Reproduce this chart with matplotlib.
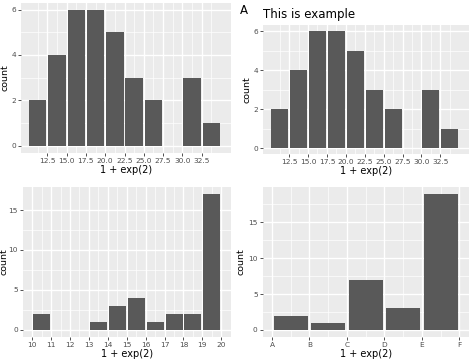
import numpy as np
import matplotlib
matplotlib.use("Agg")
import matplotlib.pyplot as plt

# data
edges_top = [10.0, 12.5, 15.0, 17.5, 20.0, 22.5, 25.0, 27.5, 30.0, 32.5, 35.0]
counts_top = [2, 4, 6, 6, 5, 3, 2, 0, 3, 1]

edges_bl = [10, 11, 12, 13, 14, 15, 16, 17, 18, 19, 20]
counts_bl = [2, 0, 0, 1, 3, 4, 1, 2, 2, 17]

letters = ["A", "B", "C", "D", "E", "F"]
counts_br = [2, 1, 7, 3, 19]

xlab = "1 + exp(2)"
bar_col = "#595959"
panel_col = "#EBEBEB"

W, H = 474, 361


def gg_axes(ax, xmaj, xmin, ymaj, ymin):
    ax.set_facecolor(panel_col)
    for s in ax.spines.values():
        s.set_visible(False)
    ax.set_xticks(xmaj)
    ax.set_xticks(xmin, minor=True)
    ax.set_yticks(ymaj)
    ax.set_yticks(ymin, minor=True)
    ax.grid(which="major", color="white", lw=1.0)
    ax.grid(which="minor", color="white", lw=0.5)
    ax.set_axisbelow(True)
    ax.tick_params(which="major", length=2, width=0.6, color="#333333",
                   labelsize=5.3, labelcolor="#4D4D4D", pad=1.5)
    ax.tick_params(which="minor", length=0)
    ax.set_ylabel("count", fontsize=6.8)
    ax.set_xlabel(xlab, fontsize=7, labelpad=1)


def hist_panel(ax, edges, counts, xmaj, xlim, ylim, ymaj, ymin, lab_x):
    e = np.array(edges, dtype=float)
    w = np.diff(e)
    ax.bar(e[:-1] + w / 2, counts, width=w * 0.9, color=bar_col, zorder=2)
    xmin = [(a + b) / 2 for a, b in zip(xmaj[:-1], xmaj[1:])]
    gg_axes(ax, xmaj, xmin, ymaj, ymin)
    ax.set_xlim(*xlim)
    ax.set_ylim(*ylim)
    b = ax.get_position()
    ax.yaxis.set_label_coords(lab_x / W, (b.y0 + b.y1) / 2,
                              transform=fig.transFigure)


fig = plt.figure(figsize=(W / 100, H / 100), dpi=100)

top_ticks = [12.5, 15.0, 17.5, 20.0, 22.5, 25.0, 27.5, 30.0, 32.5]

ax1 = fig.add_axes([0.0437, 0.577, 0.443, 0.4155])
hist_panel(ax1, edges_top, counts_top, top_ticks, (9.06, 36.25), (-0.3, 6.3),
           [0, 2, 4, 6], [1, 3, 5], 9)
ax1.set_xticks([11.25] + [t + 1.25 for t in top_ticks], minor=True)
ax1.set_xticklabels([f"{t:.1f}" for t in top_ticks])

ax2 = fig.add_axes([0.555, 0.573, 0.434, 0.357])
hist_panel(ax2, edges_top, counts_top, top_ticks, (9.06, 36.25), (-0.3, 6.3),
           [0, 2, 4, 6], [1, 3, 5], 252)
ax2.set_xticks([11.25] + [t + 1.25 for t in top_ticks], minor=True)
ax2.set_xticklabels([f"{t:.1f}" for t in top_ticks])
ax2.set_title("This is example", fontsize=8.5, loc="left", pad=5)
fig.text(240 / W, 1 - 4 / H, "A", fontsize=8.5, ha="left", va="top")

ax3 = fig.add_axes([0.0479, 0.0673, 0.439, 0.414])
hist_panel(ax3, edges_bl, counts_bl, list(range(10, 21)), (9.5, 20.5),
           (-0.85, 17.85), [0, 5, 10, 15], [2.5, 7.5, 12.5], 8.5)

ax4 = fig.add_axes([0.554, 0.0673, 0.435, 0.4155])
pos = np.arange(1, 7)
hist_panel(ax4, pos, counts_br, list(pos), (0.75, 6.25),
           (-0.95, 19.95), [0, 5, 10, 15], [2.5, 7.5, 12.5, 17.5], 246)
ax4.set_xticklabels(letters)

fig.savefig("out.png", dpi=100)
